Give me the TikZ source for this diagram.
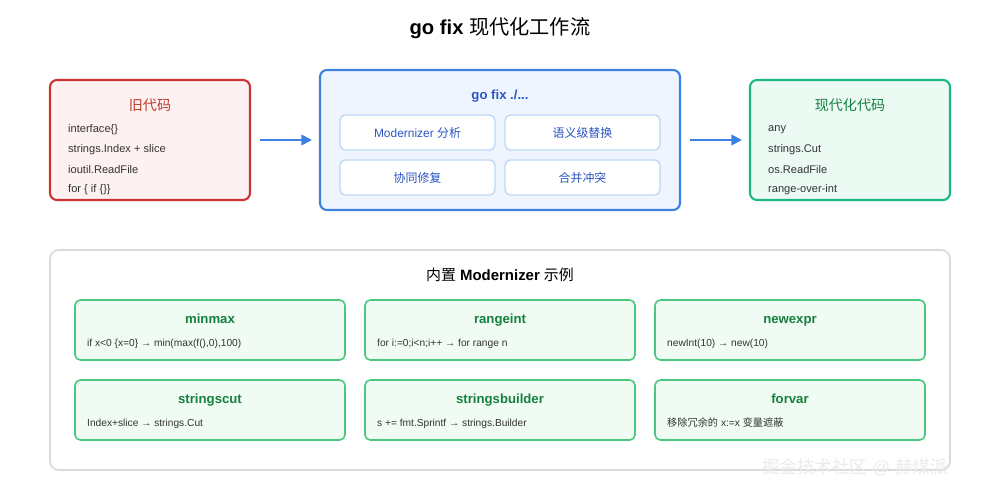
\documentclass[tikz,border=0pt]{standalone}
\usepackage{fontspec}
\setmainfont{Liberation Sans}
\newfontfamily\cjk{Noto Sans CJK SC}
\usetikzlibrary{arrows.meta}
\definecolor{ablue}{HTML}{3B82E0}
\definecolor{tblue}{HTML}{2B55C0}
\definecolor{bfill}{HTML}{EEF5FE}
\definecolor{sborder}{HTML}{BFD8F6}
\definecolor{rborder}{HTML}{CC3333}
\definecolor{rfill}{HTML}{FDF1F1}
\definecolor{rtext}{HTML}{C0392B}
\definecolor{gborder}{HTML}{1DB584}
\definecolor{gfill}{HTML}{EBFAF3}
\definecolor{mgreen}{HTML}{4CC77F}
\definecolor{mgfill}{HTML}{F0FBF3}
\definecolor{tgreen}{HTML}{15803D}
\begin{document}
\begin{tikzpicture}[x=0.02cm,y=-0.02cm,
  box/.style={draw=#1,line width=1.2pt,rounded corners=4pt},
  sub/.style={draw=sborder,fill=white,line width=0.8pt,rounded corners=3pt},
  mbox/.style={draw=mgreen,fill=mgfill,line width=0.9pt,rounded corners=3pt},
  code/.style={anchor=west,font=\fontsize{6.3}{7}\selectfont,text=black!80},
  arr/.style={draw=ablue,line width=1.1pt,-{Triangle[length=6pt,width=6pt]}}]
\useasboundingbox (0,0) rectangle (1000,500);
\fill[white] (0,0) rectangle (1000,500);
\node (title) at (500,28) {\fontsize{11.5}{13}\selectfont\textbf{go fix} {\cjk 现代化工作流}};
% old
\draw[box=rborder,fill=rfill] (50,80) rectangle (250,200);
\node[text=rtext] (oldt) at (150,105) {\fontsize{8}{9}\selectfont\cjk 旧代码};
\node[code] (o1) at (62,130) {interface\{\}};
\node[code] (o2) at (62,150) {strings.Index + slice};
\node[code] (o3) at (62,170) {ioutil.ReadFile};
\node[code] (o4) at (62,190) {for \{ if \{\}\}};
% mid
\draw[box=ablue,fill=bfill] (320,70) rectangle (680,210);
\node[text=tblue] (midt) at (500,96) {\fontsize{7.5}{9}\selectfont\textbf{go fix ./...}};
\draw[sub] (340,115) rectangle node[text=tblue,font=\fontsize{6.8}{8}\selectfont] (s1) {Modernizer {\cjk 分析}} (495,150);
\draw[sub] (505,115) rectangle node[text=tblue,font=\fontsize{6.8}{8}\selectfont\cjk] (s2) {语义级替换} (660,150);
\draw[sub] (340,160) rectangle node[text=tblue,font=\fontsize{6.8}{8}\selectfont\cjk] (s3) {协同修复} (495,195);
\draw[sub] (505,160) rectangle node[text=tblue,font=\fontsize{6.8}{8}\selectfont\cjk] (s4) {合并冲突} (660,195);
% new
\draw[box=gborder,fill=gfill] (750,80) rectangle (950,200);
\node[text=tgreen] (newt) at (850,105) {\fontsize{8}{9}\selectfont\cjk 现代化代码};
\node[code] (n1) at (762,130) {any};
\node[code] (n2) at (762,150) {strings.Cut};
\node[code] (n3) at (762,170) {os.ReadFile};
\node[code] (n4) at (762,190) {range-over-int};
\coordinate (a1s) at (260,140); \coordinate (a1e) at (312,140);
\coordinate (a2s) at (690,140); \coordinate (a2e) at (742,140);
\draw[arr] (a1s) -- (a1e);
\draw[arr] (a2s) -- (a2e);
% bottom
\draw[draw=black!15,line width=0.9pt,rounded corners=5pt,fill=white] (50,250) rectangle (950,470);
\node (bt) at (500,275) {\fontsize{8.5}{10}\selectfont{\cjk 内置} \textbf{Modernizer} {\cjk 示例}};
\foreach \x/\y/\t/\d [count=\i] in {
 75/300/minmax/{if x<0 \{x=0\} → min(max(f(),0),100)},
 365/300/rangeint/{for i:=0;i<n;i++ → for range n},
 655/300/newexpr/{newInt(10) → new(10)},
 75/380/stringscut/{Index+slice → strings.Cut},
 365/380/stringsbuilder/{s += fmt.Sprintf → strings.Builder},
 655/380/forvar/{{\cjk 移除冗余的} x:=x {\cjk 变量遮蔽}}}{
  \draw[mbox] (\x,\y) rectangle ++(270,60);
  \node[text=tgreen,font=\fontsize{7.5}{9}\selectfont\bfseries,text height=1.6ex,text depth=0.4ex] (m\i) at (\x+135,\y+18) {\t};
  \node[code,font=\fontsize{5.8}{7}\selectfont,text height=1.6ex,text depth=0.4ex] (d\i) at (\x+6,\y+41) {\d};
}
\node[text=black!8,font=\fontsize{10}{12}\selectfont] (wm) at (855,467) {{\cjk 掘金技术社区} @ {\cjk 赫煤派}};
\end{tikzpicture}
\end{document}
